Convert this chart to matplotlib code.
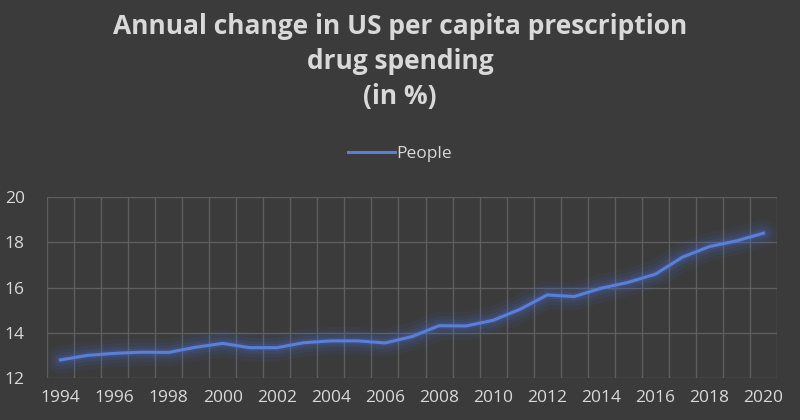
import matplotlib
matplotlib.use("Agg")
import matplotlib.pyplot as plt
import numpy as np

years = list(range(1994, 2021))
values = [12.8, 13.0, 13.09, 13.14, 13.13, 13.36, 13.53, 13.34, 13.34, 13.56,
          13.64, 13.64, 13.55, 13.83, 14.31, 14.3, 14.55, 15.04, 15.67, 15.6,
          15.97, 16.23, 16.59, 17.34, 17.81, 18.06, 18.4]
tick_years = list(range(1994, 2021, 2))
yticks = [12, 14, 16, 18, 20]
title = "Annual change in US per capita prescription\ndrug spending\n(in %)"
series_name = "People"

bg = "#3b3b3b"
fg = "#d9d9d9"
grid_c = "#5e5e5e"
line_c = "#5a7fd8"

plt.rcParams['font.family'] = ['Open Sans', 'DejaVu Sans']
fig = plt.figure(figsize=(8, 4.2), dpi=100, facecolor=bg)
ax = fig.add_axes([47/800, 42/420, 730/800, 181/420], facecolor=bg)

x = np.arange(len(years))
# glow
for lw, a in [(20, 0.07), (14, 0.09), (9, 0.13), (5, 0.2)]:
    ax.plot(x, values, color="#4a6fd0", lw=lw, alpha=a, solid_capstyle='round')
line, = ax.plot(x, values, color=line_c, lw=2.2, label=series_name)

ax.set_xlim(-0.5, len(years) - 0.5)
ax.set_ylim(12, 20)
ax.set_yticks(yticks)
ax.set_yticklabels([str(v) for v in yticks])
ax.set_xticks([years.index(y) for y in tick_years])
ax.set_xticklabels([str(y) for y in tick_years])
ax.grid(False)
for xv in np.arange(-0.5, len(years), 1):
    ax.axvline(xv, color=grid_c, lw=1, zorder=0)
for yv in yticks:
    ax.axhline(yv, color=grid_c, lw=1, zorder=0)
for s in ax.spines.values():
    s.set_visible(False)
ax.tick_params(which='both', length=0, colors=fg, labelsize=12.5)
ax.tick_params(axis='y', pad=16)
ax.tick_params(axis='x', pad=9)

fig.text(0.5, 0.968, title, ha='center', va='top', color=fg, fontsize=19,
         fontweight='bold', linespacing=1.38)
fig.legend(handles=[line], loc='center', bbox_to_anchor=(0.5, 1 - 154/420),
           frameon=False, labelcolor=fg, fontsize=12.5, handlelength=2.7,
           handletextpad=0.1)

fig.savefig("out.png", dpi=100, facecolor=bg)
